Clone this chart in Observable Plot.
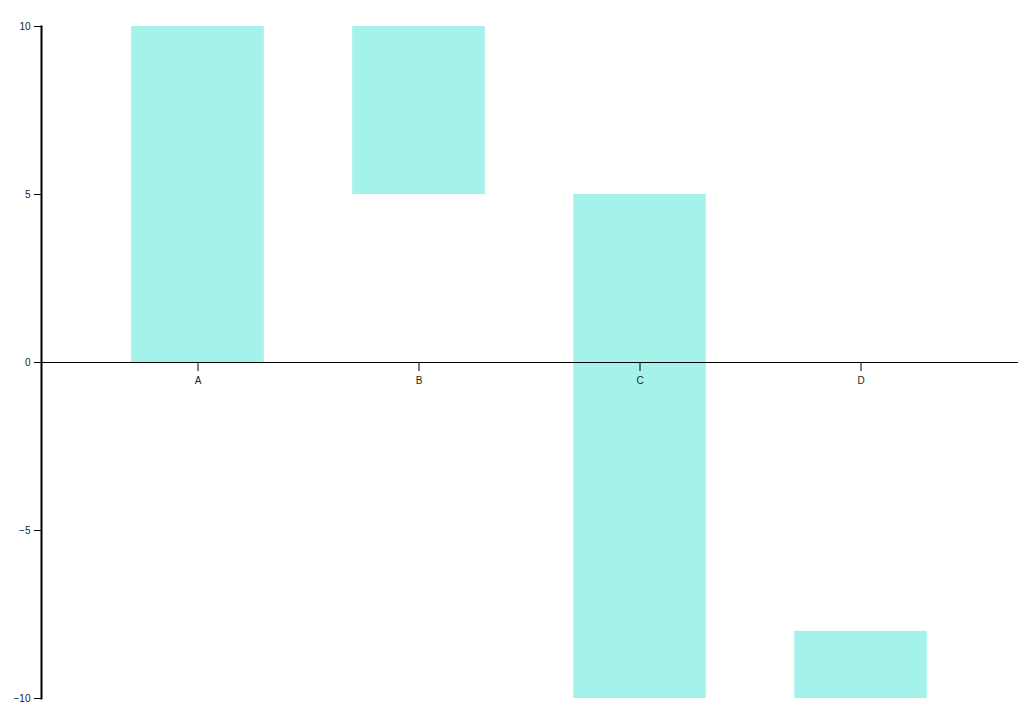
<!DOCTYPE html>
<html>
<head>
<meta charset="utf-8">
<script src="https://cdn.jsdelivr.net/npm/d3@7"></script>
<script src="https://cdn.jsdelivr.net/npm/@observablehq/plot@0.6"></script>
<style>
  html, body { margin: 0; padding: 0; background: #fff; }
  #chart svg { display: block; font-family: "Liberation Sans", Arial, sans-serif; }
</style>
</head>
<body>
<div id="chart"></div>
<script>
const categories = ["A", "B", "C", "D"];
const barStart = [0, 10, 5, -10];
const barEnd = [10, 5, -10, -8];
const yTicks = [10, 5, 0, -5, -10];

const rows = categories.map((c, i) => ({category: c, start: barStart[i], end: barEnd[i]}));

const chart = Plot.plot({
  width: 1030,
  height: 717,
  marginTop: 26,
  marginBottom: 19,
  marginLeft: 41,
  marginRight: 12,
  style: {fontSize: "10px", fontFamily: "'Liberation Sans', Arial, sans-serif", color: "#000"},
  x: {type: "band", domain: categories, padding: 0.4, range: [42.8, 1015.2], round: false, axis: null},
  y: {domain: [-10, 10], axis: null},
  marks: [
    Plot.barY(rows, {x: "category", y1: "start", y2: "end", fill: "#a5f2ea"}),
    Plot.ruleY([0], {stroke: "#000", strokeWidth: 1}),
    Plot.ruleX(categories, {x: d => d, y1: 0, y2: 0, insetBottom: -9, stroke: "#000", strokeWidth: 1}),
    Plot.text(categories, {x: d => d, y: 0, dy: 18, text: d => d, fill: "#222"}),
    Plot.axisY({ticks: yTicks, tickSize: 7, tickPadding: 4, tickFormat: d3.format(""), stroke: "#000", fill: "#222"}),
    Plot.frame({anchor: "left", stroke: "#000", strokeWidth: 2})
  ]
});
document.getElementById("chart").append(chart);
</script>
</body>
</html>
